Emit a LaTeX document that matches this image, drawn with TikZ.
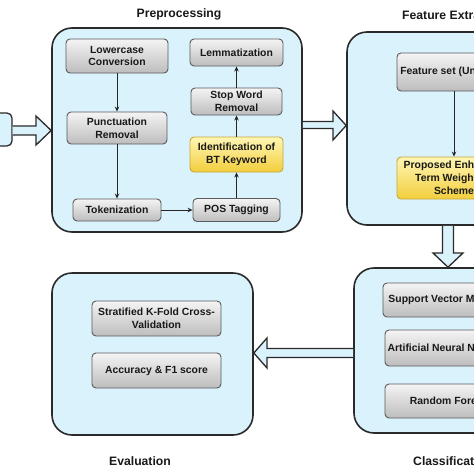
\documentclass[tikz,border=0pt]{standalone}
\usepackage{fontspec}
\setmainfont{Liberation Sans}
\usetikzlibrary{arrows.meta}
\definecolor{panel}{HTML}{DAF2FB}
\definecolor{edge}{HTML}{2A2A2A}
\definecolor{procline}{HTML}{5A5A5A}
\definecolor{greytop}{HTML}{F4F4F4}
\definecolor{greybot}{HTML}{BDBDBD}
\definecolor{keyline}{HTML}{C9A63A}
\definecolor{keytop}{HTML}{FFF6B4}
\definecolor{keybot}{HTML}{F2CE3C}
\newcommand{\cellfont}{\bfseries\fontsize{10.4}{12.8}\selectfont}
\newcommand{\headfont}{\bfseries\fontsize{12.2}{14}\selectfont}
\tikzset{
  stage/.style={draw=edge,line width=1.6pt,fill=panel,rounded corners=20pt,inner sep=0pt},
  proc/.style={draw=procline,line width=0.9pt,rounded corners=4pt,top color=greytop,
    bottom color=greybot,align=center,inner sep=2pt,font=\cellfont,text=black!90},
  key/.style={proc,draw=keyline,top color=keytop,bottom color=keybot},
  flow/.style={draw=black!85,line width=0.8pt,-{Stealth[length=5pt,width=4.5pt]}},
  harrow/.style={draw=edge,line width=1.3pt,fill=panel,line join=miter},
  title/.style={font=\headfont,inner sep=0pt,text=black!90}
}
\begin{document}
\begin{tikzpicture}[x=1pt,y=-1pt]
\useasboundingbox (0,0) rectangle (474,474);
\clip (0,0) rectangle (474,474);
%=======stages=============
\node[stage,minimum width=250pt,minimum height=204pt] (pre) at (177,130) {};
\node[stage,minimum width=214pt,minimum height=193pt] (feat) at (454,128.5) {};
\node[stage,minimum width=188pt,minimum height=165pt] (cls) at (448,350.5) {};
\node[stage,minimum width=201pt,minimum height=162pt] (eval) at (152.5,354) {};
\node[stage,rounded corners=5pt,line width=1.3pt,minimum width=50pt,minimum height=33pt] (src) at (-13,129.5) {};
%=======titles=============
\node[title,anchor=base] (pretitle) at (179,17) {Preprocessing};
\node[title,anchor=base west] (feattitle) at (402,19) {Feature Extraction};
\node[title,anchor=base west] (clstitle) at (413,465) {Classification};
\node[title,anchor=base] (evaltitle) at (140,465) {Evaluation};
%=======preprocessing=============
\node[proc,minimum width=102pt,minimum height=34pt] (lower) at (117,56) {Lowercase\\Conversion};
\node[proc,minimum width=100pt,minimum height=32pt] (punct) at (117,128) {Punctuation\\Removal};
\node[proc,minimum width=88pt,minimum height=22pt] (token) at (117,210) {Tokenization};
\node[proc,minimum width=87pt,minimum height=23pt] (pos) at (236.5,210) {POS Tagging};
\node[key,minimum width=93pt,minimum height=35pt] (btkey) at (236.5,154.5) {Identification of\\BT Keyword};
\node[proc,minimum width=91pt,minimum height=27pt] (stop) at (236.5,101.5) {Stop Word\\Removal};
\node[proc,minimum width=93pt,minimum height=27pt] (lemma) at (236.5,52.5) {Lemmatization};
\draw[flow] (lower) -- (punct);
\draw[flow] (punct) -- (token);
\draw[flow] (token) -- (pos);
\draw[flow] (pos) -- (btkey);
\draw[flow] (btkey) -- (stop);
\draw[flow] (stop) -- (lemma);
%=======feature extraction=============
\node[proc,minimum width=114pt,minimum height=38pt] (fset) at (454,72) {Feature set (Unigram)};
\node[key,minimum width=114pt,minimum height=42pt] (prop) at (454,178) {Proposed Enhanced\\Term Weighting\\Scheme};
\draw[flow] (fset) -- (prop);
%=======classification=============
\node[proc,minimum width=130pt,minimum height=34pt] (svm) at (448,300) {Support Vector Machine};
\node[proc,minimum width=126pt,minimum height=36pt] (ann) at (448,348) {Artificial Neural Network};
\node[proc,minimum width=126pt,minimum height=34pt] (rf) at (448,401) {Random Forest};
%=======evaluation=============
\node[proc,minimum width=129pt,minimum height=35pt] (strat) at (156.5,318.5) {Stratified K-Fold Cross-\\Validation};
\node[proc,minimum width=129pt,minimum height=35pt] (acc) at (156.5,370.5) {Accuracy \& F1 score};
%=======block arrows=============
\draw[harrow] (src.east |- 0,126) -- (36,126) -- (36,116) -- (pre.west |- 0,130.5)
  -- (36,145) -- (36,135) -- (src.east |- 0,135);
\draw[harrow] (pre.east |- 0,121.5) -- (333,121.5) -- (333,111) -- (feat.west |- 0,125.5)
  -- (333,140) -- (333,128.5) -- (pre.east |- 0,128.5);
\draw[harrow] (feat.south -| 442.5,0) -- (442.5,253) -- (433,253) -- (cls.north)
  -- (463,253) -- (453.5,253) -- (feat.south -| 453.5,0);
\draw[harrow] (cls.west |- 0,348.5) -- (267,348.5) -- (267,338) -- (eval.east |- 0,353)
  -- (267,368) -- (267,357.5) -- (cls.west |- 0,357.5);
\end{tikzpicture}
\end{document}
